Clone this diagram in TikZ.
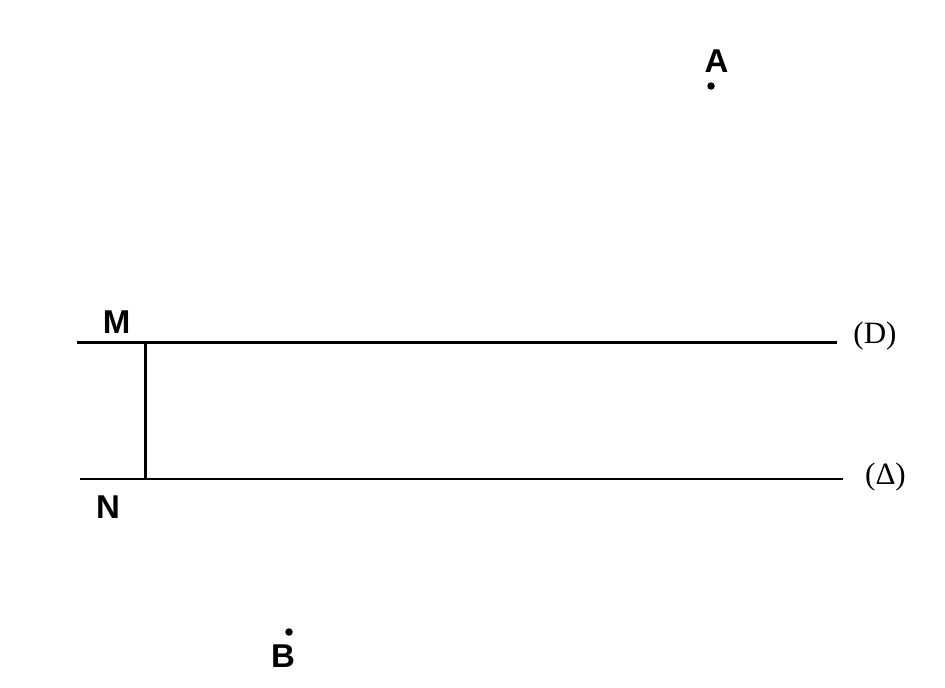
\documentclass[tikz,border=0pt]{standalone}
\usepackage{fontspec}
\setmainfont{Liberation Serif}
\newfontfamily\lblfont{Liberation Sans}
\begin{document}
\begin{tikzpicture}[x=1pt,y=-1pt,
  ln/.style={line width=2.4pt},
  ptlbl/.style={inner sep=0pt,font=\lblfont\fontsize{33}{33}\selectfont\bfseries},
  linelbl/.style={inner sep=0pt,font=\fontsize{31}{31}\selectfont},
  dotpt/.style={circle,fill=black,inner sep=0pt,minimum size=7.5pt}]
\useasboundingbox[fill=white] (0,0) rectangle (945,688);
\coordinate (D1) at (77,342.5);
\coordinate (D2) at (837,342.5);
\coordinate (E1) at (80,479);
\coordinate (E2) at (843,479);
\coordinate (Mp) at (145.5,342.5);
\coordinate (Np) at (145.5,479);
\draw[ln] (D1) -- (D2);
\draw[ln] (E1) -- (E2);
\draw[ln] (Mp) -- (Np);
\node[ptlbl] (M) at (116.5,322) {M};
\node[ptlbl] (N) at (108,507) {N};
\node[linelbl] (Dl) at (875,336) {(D)};
\node[linelbl] (El) at (885.5,477) {(Δ)};
\node[dotpt] (A) at (711,86) {};
\node[ptlbl] (Al) at (716.5,61) {A};
\node[dotpt] (B) at (289,632) {};
\node[ptlbl] (Bl) at (283,656) {B};
\end{tikzpicture}
\end{document}
